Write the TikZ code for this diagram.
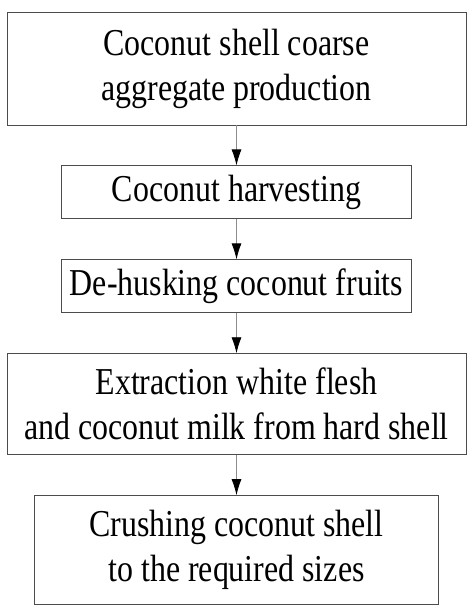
\documentclass[tikz,border=0pt]{standalone}
\usepackage{fontspec}
\setmainfont{Liberation Serif}[FakeStretch=0.84]
\usetikzlibrary{arrows.meta,positioning}

\begin{document}
\begin{tikzpicture}[x=1pt,y=1pt,
    node distance=40pt,
    stepbox/.style={draw=black!70, line width=0.9pt, inner sep=0pt, align=center,
                    font=\fontsize{38}{45}\selectfont},
    flow/.style={draw=black!45, line width=0.8pt, -{Latex[length=16pt,width=10pt,color=black]}}]
  \useasboundingbox (0,0) rectangle (474,-613);
  % the five steps
  \node [stepbox, minimum width=459pt, minimum height=113pt] (shell) at (236.5,-68.5)
        {Coconut shell coarse\\aggregate production};
  \node [stepbox, minimum width=350pt, minimum height=53pt, below=of shell] (harvest)
        {Coconut harvesting};
  \node [stepbox, minimum width=350pt, minimum height=53pt, below=of harvest] (dehusk)
        {De-husking coconut fruits};
  \node [stepbox, minimum width=459pt, minimum height=101pt, below=of dehusk] (extract)
        {Extraction white flesh\\and coconut milk from hard shell};
  \node [stepbox, minimum width=404pt, minimum height=109pt, below=of extract] (crush)
        {Crushing coconut shell\\to the required sizes};
  % arrows
  \draw [flow] (shell) -- (harvest);
  \draw [flow] (harvest) -- (dehusk);
  \draw [flow] (dehusk) -- (extract);
  \draw [flow] (extract) -- (crush);
\end{tikzpicture}
\end{document}
